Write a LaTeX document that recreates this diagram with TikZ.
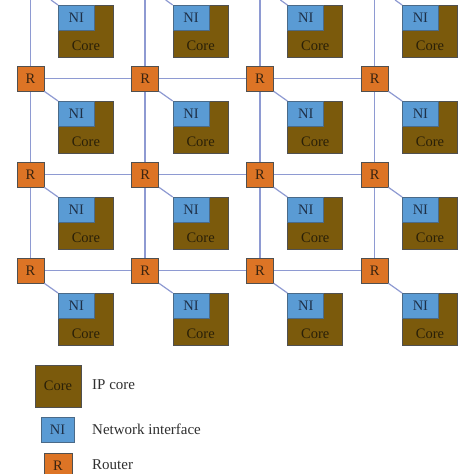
\documentclass[tikz,border=0pt]{standalone}
\usepackage{fontspec}
\setmainfont{Liberation Serif}
\begin{document}
\begin{tikzpicture}[x=1pt,y=-1pt,
  link/.style={draw=linkc,line width=1.5pt},
  diag/.style={draw=linkc,line width=1.2pt},
  router/.style={draw=bordc,line width=0.7pt,fill=routc,minimum width=27pt,minimum height=25pt,inner sep=0pt,text=rtext,font=\fontsize{14.5}{14.5}\selectfont},
  corebox/.style={draw=bordc,line width=0.8pt,fill=corec,minimum width=55pt,minimum height=52pt,inner sep=0pt},
  nibox/.style={draw=nibord,line width=0.6pt,fill=nic,minimum width=36pt,minimum height=25pt,inner sep=0pt,text=nitext,font=\fontsize{14.5}{14.5}\selectfont},
  coretext/.style={text=ctext,font=\fontsize{14.5}{14.5}\selectfont,inner sep=0pt},
  legtext/.style={anchor=west,text=ltext,font=\fontsize{15}{15}\selectfont,inner sep=0pt}]
\definecolor{linkc}{HTML}{8E9AD2}
\definecolor{bordc}{HTML}{505050}
\definecolor{routc}{HTML}{DD7425}
\definecolor{corec}{HTML}{7B5A0C}
\definecolor{nic}{HTML}{5A9BD4}
\definecolor{nibord}{HTML}{4A6A88}
\definecolor{rtext}{HTML}{3A2410}
\definecolor{nitext}{HTML}{1E3048}
\definecolor{ctext}{HTML}{2A2008}
\definecolor{ltext}{HTML}{303030}
\useasboundingbox (0,0) rectangle (474,474);
\clip (0,0) rectangle (474,474);
\fill[white] (0,0) rectangle (474,474);
% top free ends
\foreach \c/\x in {1/30.5,2/145.2,3/259.9,4/374.6}{
  \coordinate (top\c) at (\x,0);
  \coordinate (dtop\c) at (\x+20.5,0);
}
% router centres
\foreach \r/\y in {1/78.5,2/174.5,3/270.5}{
  \foreach \c/\x in {1/30.5,2/145.2,3/259.9,4/374.6}{
    \coordinate (rc-\r-\c) at (\x,\y);
  }
}
% links
\foreach \c in {1,2,3,4}{
  \draw[link] (top\c) -- (rc-3-\c);
}
\foreach \r in {1,2,3}{
  \draw[link] (rc-\r-1) -- (rc-\r-4);
}
% tiles
\foreach \r/\y in {0/-17.5,1/78.5,2/174.5,3/270.5}{
  \foreach \c/\x in {1/30.5,2/145.2,3/259.9,4/374.6}{
    \node[corebox,anchor=north west] (core-\r-\c) at (\x+27.5,\y+22.5) {};
    \node[nibox,anchor=north west] (ni-\r-\c) at (core-\r-\c.north west) {NI};
    \node[coretext] at ([yshift=-41pt]core-\r-\c.north) {Core};
  }
}
% top diagonal links
\foreach \c in {1,2,3,4}{
  \draw[diag] (dtop\c) -- (ni-0-\c.north west);
}
% routers on top
\foreach \r in {1,2,3}{
  \foreach \c in {1,2,3,4}{
    \node[router] (r-\r-\c) at (rc-\r-\c) {R};
    \draw[diag] (r-\r-\c.south east) -- (ni-\r-\c.north west);
  }
}
% legend
\node[corebox,minimum width=46pt,minimum height=42pt,text=ctext,font=\fontsize{14.5}{14.5}\selectfont] (lcore) at (58,386) {Core};
\node[legtext] (lcoret) at (92,385) {IP core};
\node[nibox,minimum width=33pt,minimum height=25pt] (lni) at (57.5,429.5) {NI};
\node[legtext] (lnit) at (92,429) {Network interface};
\node[router,minimum width=28pt,minimum height=25pt] (lr) at (58,465.5) {R};
\node[legtext] (lrt) at (92,465) {Router};
\end{tikzpicture}
\end{document}
